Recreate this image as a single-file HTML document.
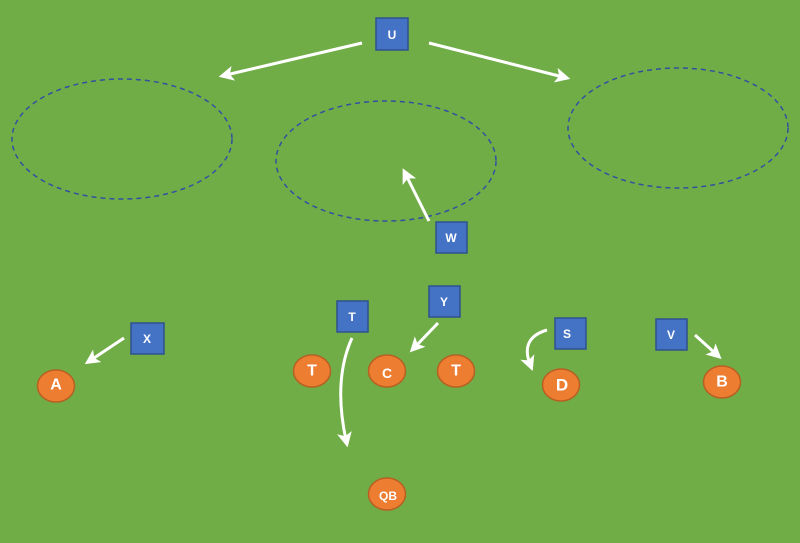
<!DOCTYPE html>
<html><head><meta charset="utf-8"><style>
html,body{margin:0;padding:0;background:#70AD47;}
svg{display:block;}
text{font-family:"Liberation Sans",sans-serif;fill:#fff;font-weight:bold;text-anchor:middle;dominant-baseline:central;}
</style></head><body>
<svg width="800" height="543" viewBox="0 0 800 543" xmlns="http://www.w3.org/2000/svg">
<defs>
<marker id="ah" markerWidth="5" markerHeight="5" refX="2.5" refY="2.5" orient="auto" markerUnits="strokeWidth">
<path d="M0,0 L5,2.5 L0,5 L1.2,2.5 z" fill="#fff"/>
</marker>
</defs>
<rect width="800" height="543" fill="#70AD47"/>
<g fill="none" stroke="#2F52A0" stroke-width="1.5" stroke-dasharray="5,4">
<ellipse cx="122" cy="139" rx="110" ry="60"/>
<ellipse cx="386" cy="161" rx="110" ry="60"/>
<ellipse cx="678" cy="128" rx="110" ry="60"/>
</g>
<g stroke="#fff" stroke-width="3" fill="none" marker-end="url(#ah)">
<line x1="362" y1="43" x2="226" y2="75"/>
<line x1="429" y1="43" x2="563" y2="77"/>
<line x1="429" y1="221" x2="406" y2="175"/>
<line x1="124" y1="338" x2="91" y2="360"/>
<line x1="438" y1="323" x2="415" y2="347"/>
<path d="M352,338 Q333,380 346,440"/>
<path d="M547,330 Q520,338 530,364"/>
<line x1="695" y1="335" x2="716" y2="354"/>
</g>
<g fill="#4472C4" stroke="#2F528F" stroke-width="1.5">
<rect x="376" y="18" width="32" height="32"/>
<rect x="436" y="222" width="31" height="31"/>
<rect x="337" y="301" width="31" height="31"/>
<rect x="429" y="286" width="31" height="31"/>
<rect x="131" y="323" width="33" height="31"/>
<rect x="555" y="318" width="31" height="31"/>
<rect x="656" y="319" width="31" height="31"/>
</g>
<g font-size="12">
<text x="392" y="35">U</text>
<text x="451" y="238">W</text>
<text x="352" y="317">T</text>
<text x="444" y="302">Y</text>
<text x="147" y="339">X</text>
<text x="567" y="334">S</text>
<text x="671" y="335">V</text>
</g>
<g fill="#ED7D31" stroke="#B85F22" stroke-width="1.5">
<ellipse cx="56" cy="386" rx="18.5" ry="16"/>
<ellipse cx="312" cy="371" rx="18.5" ry="16"/>
<ellipse cx="387" cy="371" rx="18.5" ry="16"/>
<ellipse cx="456" cy="371" rx="18.5" ry="16"/>
<ellipse cx="561" cy="385" rx="18.5" ry="16"/>
<ellipse cx="722" cy="382" rx="18.5" ry="16"/>
<ellipse cx="387" cy="494" rx="18.5" ry="16"/>
</g>
<g font-size="16">
<text x="56" y="385">A</text>
<text x="312" y="371">T</text>
<text x="387" y="373" font-size="14">C</text>
<text x="456" y="371">T</text>
<text x="562" y="385" font-size="17">D</text>
<text x="722" y="382">B</text>
<text x="388" y="496" font-size="12">QB</text>
</g>
</svg>
</body></html>
